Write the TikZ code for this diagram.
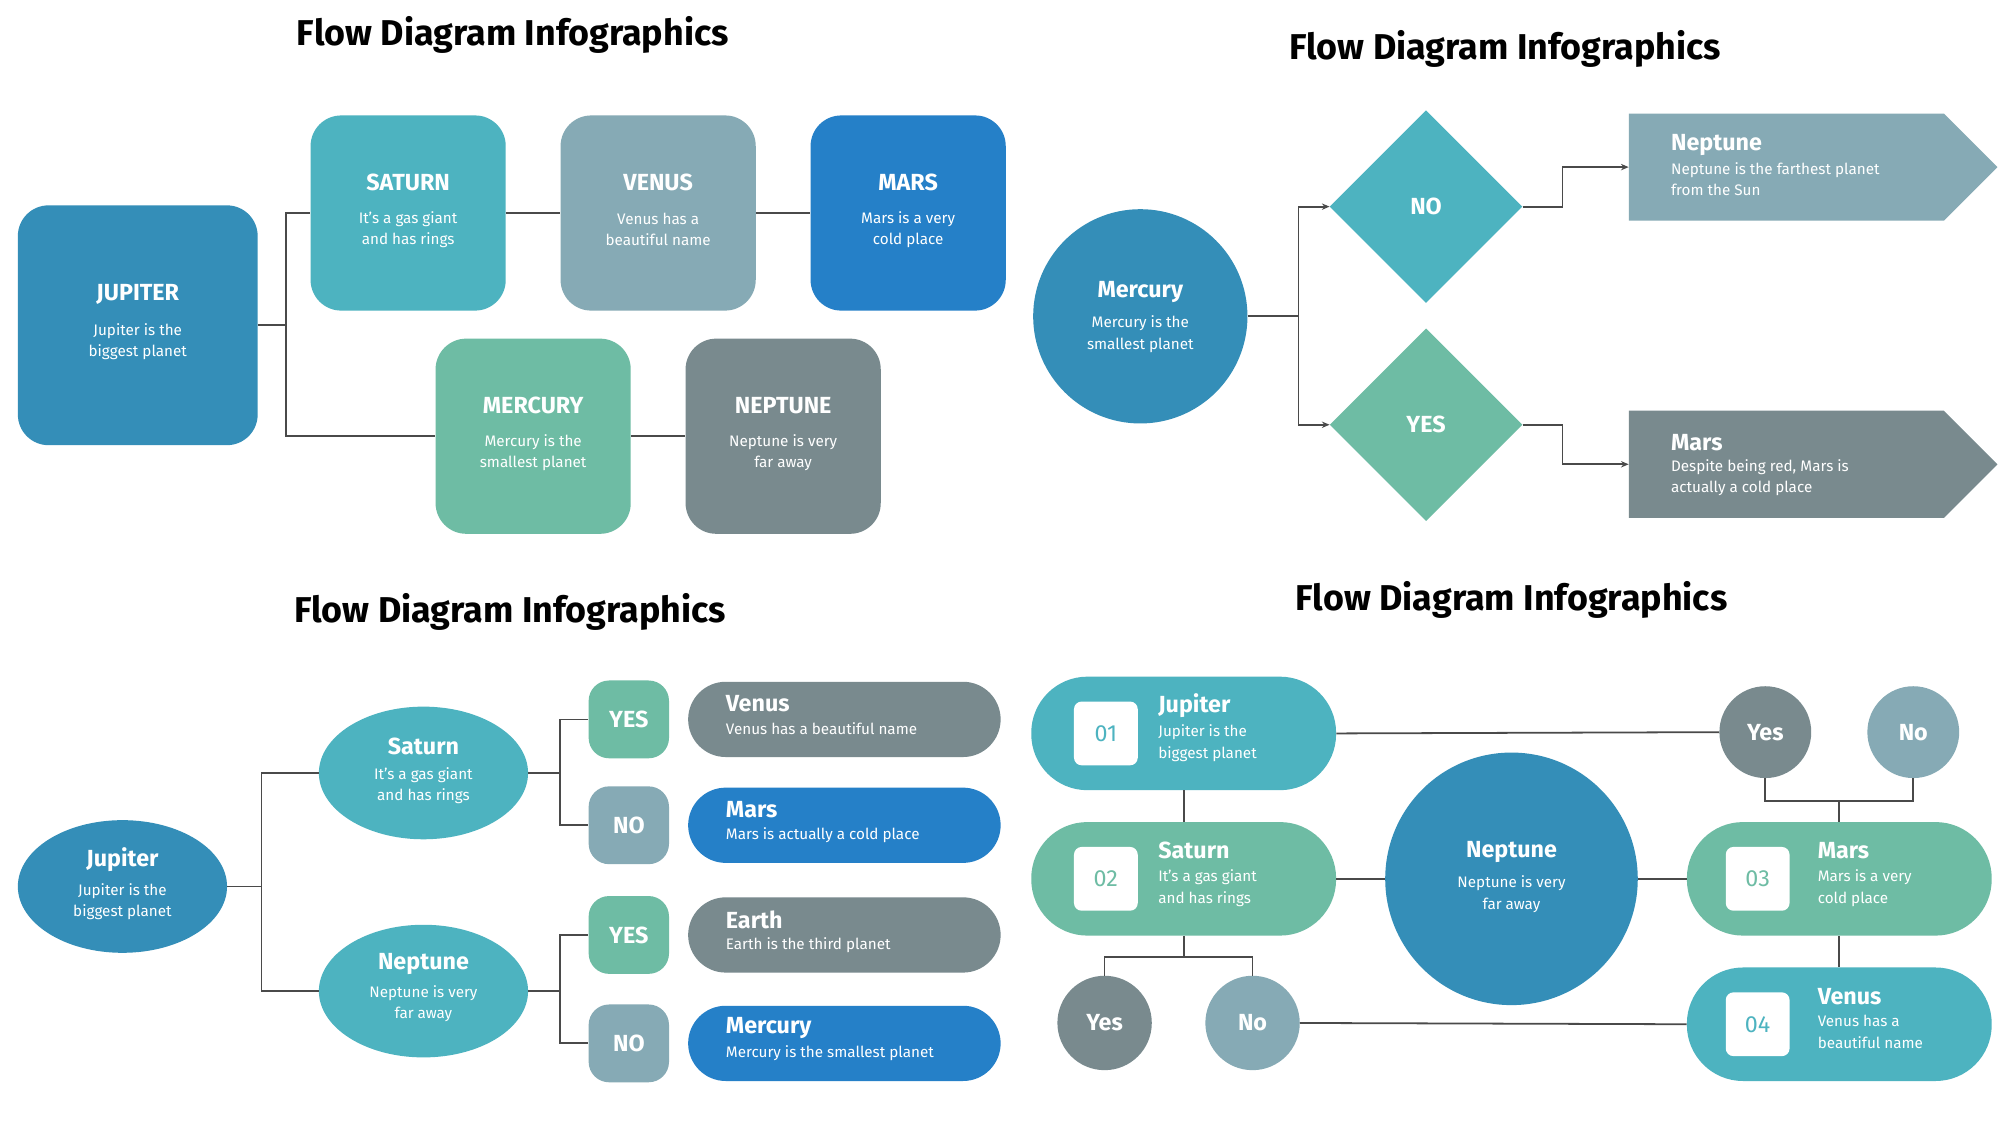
\documentclass[tikz,border=0pt]{standalone}
\usepackage{fontspec}
\setmainfont{Fira Sans}
\usetikzlibrary{shapes.geometric,shapes.symbols,arrows.meta}
\definecolor{cJup}{HTML}{348EB8}
\definecolor{cSat}{HTML}{4DB3C0}
\definecolor{cVen}{HTML}{86AAB5}
\definecolor{cMar}{HTML}{2580C8}
\definecolor{cMer}{HTML}{6EBCA4}
\definecolor{cNep}{HTML}{798A8E}
\definecolor{cLine}{HTML}{4A4A4A}
\tikzset{
  ttl/.style={font=\fontsize{40}{44}\selectfont\bfseries, text=black},
  hd/.style={font=\fontsize{26}{30}\selectfont\bfseries, text=white, inner sep=0pt},
  ds/.style={font=\fontsize{17}{24}\selectfont, text=white, align=center, inner sep=0pt},
  dsl/.style={font=\fontsize{17}{24}\selectfont, text=white, align=left, anchor=north west, inner sep=0pt},
  hdl/.style={hd, anchor=west},
  sq/.style={rectangle, rounded corners=12mm, minimum width=76.5mm, minimum height=76.5mm, inner sep=0pt},
  big/.style={sq, minimum width=94mm, minimum height=94mm},
  ln/.style={draw=cLine, line width=0.7mm},
  arr/.style={ln, -{Stealth[length=3mm,width=2.5mm]}},
  dia/.style={diamond, aspect=1, minimum width=75.5mm, minimum height=75.5mm, inner sep=0pt, hd},
  sig/.style={signal, signal to=east, signal pointer angle=90, minimum width=144.5mm, minimum height=42mm, inner sep=0pt},
  ell/.style={ellipse, minimum width=82mm, minimum height=52mm, inner sep=0pt},
  ys/.style={rectangle, rounded corners=8mm, minimum width=31.5mm, minimum height=30.5mm, hd},
  pill/.style={rectangle, rounded corners=14.75mm, minimum width=122.5mm, minimum height=29.5mm, inner sep=0pt},
  bpill/.style={rectangle, rounded corners=22mm, minimum width=119.5mm, minimum height=44.5mm, inner sep=0pt},
  num/.style={rectangle, fill=white, rounded corners=3mm, minimum width=25mm, minimum height=25mm, font=\fontsize{26}{30}\selectfont, inner sep=0pt},
  circ/.style={circle, inner sep=0pt}
}
\begin{document}
\begin{tikzpicture}[x=0.5mm,y=-0.5mm]
\fill[white] (0,0) rectangle (1568,884);
\useasboundingbox (0,0) rectangle (1568,884);
% ---------- TL
\node[ttl] (t1) at (402,27) {Flow Diagram Infographics};
\node[big, fill=cJup] (jup) at (108,255) {};
\node[sq, fill=cSat] (sat) at (320,167) {};
\node[sq, fill=cVen] (ven) at (516,167) {};
\node[sq, fill=cMar] (mar) at (712,167) {};
\node[sq, fill=cMer] (mer) at (418,342) {};
\node[sq, fill=cNep] (nep) at (614,342) {};
\node[hd] (jupH) at (108,231) {JUPITER};
\node[ds] (jupD) at (108,268) {Jupiter is the\\biggest planet};
\node[hd] (satH) at (320,143) {SATURN};
\node[ds] (satD) at (320,180) {It's a gas giant\\and has rings};
\node[hd] (venH) at (516,143) {VENUS};
\node[ds] (venD) at (516,180) {Venus has a\\beautiful name};
\node[hd] (marH) at (712,143) {MARS};
\node[ds] (marD) at (712,180) {Mars is a very\\cold place};
\node[hd] (merH) at (418,318) {MERCURY};
\node[ds] (merD) at (418,355) {Mercury is the\\smallest planet};
\node[hd] (nepH) at (614,318) {NEPTUNE};
\node[ds] (nepD) at (614,355) {Neptune is very\\far away};
\coordinate (j1) at (224,255);
\draw[ln] (jup.east) -- (j1);
\draw[ln] (j1) |- (sat.west);
\draw[ln] (j1) |- (mer.west);
\draw[ln] (sat) -- (ven); \draw[ln] (ven) -- (mar); \draw[ln] (mer) -- (nep);
% ---------- TR
\node[ttl] (t2) at (1180,38) {Flow Diagram Infographics};
\node[circ, fill=cJup, minimum size=84mm] (mc) at (894,248) {};
\node[hd] (mcH) at (894,229) {Mercury};
\node[ds] (mcD) at (894,262) {Mercury is the\\smallest planet};
\node[dia, fill=cSat] (no) at (1118,162) {NO};
\node[dia, fill=cMer] (yes) at (1118,333) {YES};
\node[sig, fill=cVen] (s1) at (1400.5,131) {};
\node[sig, fill=cNep] (s2) at (1400.5,364) {};
\node[hdl] (s1H) at (1310,114) {Neptune};
\node[dsl] (s1D) at (1310,127) {Neptune is the farthest planet\\from the Sun};
\node[hdl] (s2H) at (1310,347) {Mars};
\node[dsl] (s2D) at (1310,360) {Despite being red, Mars is\\actually a cold place};
\coordinate (m1) at (1018,248);
\draw[ln] (mc.east) -- (m1);
\draw[arr] (m1) |- (no.west);
\draw[arr] (m1) |- (yes.west);
\coordinate (n1) at (1225,162);
\coordinate (y1) at (1225,333);
\draw[ln] (no.east) -- (n1);
\draw[arr] (n1) |- (s1.west);
\draw[ln] (yes.east) -- (y1);
\draw[arr] (y1) |- (s2.west);
% ---------- BL
\node[ttl] (t3) at (400,480) {Flow Diagram Infographics};
\node[ell, fill=cJup] (bj) at (96,695) {};
\node[ell, fill=cSat] (bs) at (332,606) {};
\node[ell, fill=cSat] (bn) at (332,777) {};
\node[hd] (bjH) at (96,674) {Jupiter};
\node[ds] (bjD) at (96,707) {Jupiter is the\\biggest planet};
\node[hd] (bsH) at (332,585) {Saturn};
\node[ds] (bsD) at (332,616) {It's a gas giant\\and has rings};
\node[hd] (bnH) at (332,756) {Neptune};
\node[ds] (bnD) at (332,787) {Neptune is very\\far away};
\node[ys, fill=cMer] (y1b) at (493,564) {YES};
\node[ys, fill=cVen] (n1b) at (493,647) {NO};
\node[ys, fill=cMer] (y2b) at (493,733) {YES};
\node[ys, fill=cVen] (n2b) at (493,818) {NO};
\node[pill, fill=cNep] (pv) at (662,564) {};
\node[pill, fill=cMar] (pm) at (662,647) {};
\node[pill, fill=cNep] (pe) at (662,733) {};
\node[pill, fill=cMar] (pr) at (662,818) {};
\node[hdl] (pvH) at (569,552) {Venus};
\node[dsl] (pvD) at (569,566) {Venus has a beautiful name};
\node[hdl] (pmH) at (569,635) {Mars};
\node[dsl] (pmD) at (569,649) {Mars is actually a cold place};
\node[hdl] (peH) at (569,721) {Earth};
\node[dsl] (peD) at (569,735) {Earth is the third planet};
\node[hdl] (prH) at (569,806) {Mercury};
\node[dsl] (prD) at (569,820) {Mercury is the smallest planet};
\coordinate (b1) at (205,695);
\draw[ln] (bj.east) -- (b1); \draw[ln] (b1) |- (bs.west); \draw[ln] (b1) |- (bn.west);
\coordinate (b2) at (439,606);
\draw[ln] (bs.east) -- (b2); \draw[ln] (b2) |- (y1b.west); \draw[ln] (b2) |- (n1b.west);
\coordinate (b3) at (439,777);
\draw[ln] (bn.east) -- (b3); \draw[ln] (b3) |- (y2b.west); \draw[ln] (b3) |- (n2b.west);
% ---------- BR
\node[ttl] (t4) at (1185,470) {Flow Diagram Infographics};
\node[bpill, fill=cSat] (rj) at (928,575) {};
\node[bpill, fill=cMer] (rs) at (928,689) {};
\node[bpill, fill=cMer] (rm) at (1442,689) {};
\node[bpill, fill=cSat] (rv) at (1442,803) {};
\node[circ, fill=cJup, minimum size=99mm] (rn) at (1185,689) {};
\node[hd] (rnH) at (1185,668) {Neptune};
\node[ds] (rnD) at (1185,701) {Neptune is very\\far away};
\node[num, text=cSat] (n01) at (867,575) {01};
\node[num, text=cMer] (n02) at (867,689) {02};
\node[num, text=cMer] (n03) at (1378,689) {03};
\node[num, text=cSat] (n04) at (1378,803) {04};
\node[hdl] (rjH) at (908,553) {Jupiter};
\node[dsl] (rjD) at (908,568) {Jupiter is the\\biggest planet};
\node[hdl] (rsH) at (908,667) {Saturn};
\node[dsl] (rsD) at (908,682) {It's a gas giant\\and has rings};
\node[hdl] (rmH) at (1425,667) {Mars};
\node[dsl] (rmD) at (1425,682) {Mars is a very\\cold place};
\node[hdl] (rvH) at (1425,781) {Venus};
\node[dsl] (rvD) at (1425,796) {Venus has a\\beautiful name};
\node[circ, fill=cNep, minimum size=37mm, hd] (cy1) at (866,802) {Yes};
\node[circ, fill=cVen, minimum size=37mm, hd] (cn1) at (982,802) {No};
\node[circ, fill=cNep, minimum size=36mm, hd] (cy2) at (1384,574) {Yes};
\node[circ, fill=cVen, minimum size=36mm, hd] (cn2) at (1500,574) {No};
\draw[ln] (rj.south) -- (rs.north);
\coordinate (r1) at (928,750);
\draw[ln] (rs.south) -- (r1);
\draw[ln] (cy1.north) |- (r1) -| (cn1.north);
\draw[ln] (rs.east) -- (rn.west);
\draw[ln] (rn.east) -- (rm.west);
\draw[ln] (rj.east) -- (cy2.west);
\coordinate (r2) at (1442,628);
\draw[ln] (cy2.south) |- (r2) -| (cn2.south);
\draw[ln] (r2) -- (rm.north);
\draw[ln] (rm.south) -- (rv.north);
\draw[ln] (cn1.east) -- (rv.west);
\end{tikzpicture}
\end{document}
